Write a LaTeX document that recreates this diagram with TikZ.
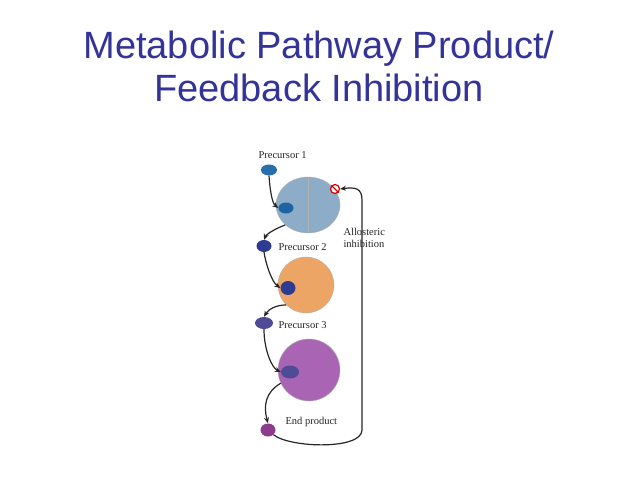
\documentclass[tikz,border=0pt]{standalone}
\usepackage{fontspec}
\setmainfont{Liberation Sans}
\newfontfamily\lab{Liberation Serif}
\usetikzlibrary{arrows.meta,shapes.geometric}
\definecolor{ttl}{HTML}{333399}
\begin{document}
\begin{tikzpicture}[x=1pt,y=-1pt,
  lbl/.style={font=\lab\fontsize{10.5}{12}\selectfont, anchor=west, text=black!85},
  arr/.style={-{Stealth[length=6pt,width=5pt]}, line width=1.2pt, black!85},
  enz/.style={draw=black!30, line width=0.4pt}]
\useasboundingbox (0,0) rectangle (638,479);
\node[font=\fontsize{38}{43}\selectfont, text=ttl, align=center] (title) at (319,66) {Metabolic Pathway Product/\\Feedback Inhibition};
% precursor 1
\node[lbl] (l1) at (255,155) {Precursor 1};
\node[ellipse, fill={rgb,255:red,40;green,110;blue,170}, minimum width=16pt, minimum height=11pt, inner sep=0pt] (p1) at (269,170) {};
% enzyme 1
\node[enz, ellipse, fill={rgb,255:red,140;green,172;blue,200}, minimum width=64pt, minimum height=56pt, inner sep=0pt] (e1) at (308,205) {};
\draw[black!30] (308,178) -- (308,232);
\node[ellipse, fill={rgb,255:red,30;green,100;blue,165}, minimum width=15pt, minimum height=11pt, inner sep=0pt] (b1) at (286,208) {};
\node[circle, draw=red!85!black, fill=white, line width=1.2pt, minimum size=9pt, inner sep=0pt] (inh) at (335,189) {};
\draw[red!85!black, line width=1.2pt] (inh.north west) -- (inh.south east);
% precursor 2
\node[ellipse, fill={rgb,255:red,45;green,60;blue,145}, minimum width=15pt, minimum height=12pt, inner sep=0pt] (p2) at (264,246) {};
\node[lbl] (l2) at (275,247) {Precursor 2};
\node[lbl, align=left] (al) at (340,238) {Allosteric\\inhibition};
% enzyme 2
\node[enz, circle, fill={rgb,255:red,236;green,165;blue,100}, minimum size=56pt, inner sep=0pt] (e2) at (306,285) {};
\node[ellipse, fill={rgb,255:red,45;green,60;blue,145}, minimum width=15pt, minimum height=14pt, inner sep=0pt] (b2) at (288,288) {};
% precursor 3
\node[ellipse, fill={rgb,255:red,80;green,75;blue,150}, minimum width=18pt, minimum height=12pt, inner sep=0pt] (p3) at (264,323) {};
\node[lbl] (l3) at (275,325) {Precursor 3};
% enzyme 3
\node[enz, circle, fill={rgb,255:red,170;green,100;blue,180}, minimum size=62pt, inner sep=0pt] (e3) at (309,370) {};
\node[ellipse, fill={rgb,255:red,80;green,75;blue,150}, minimum width=18pt, minimum height=13pt, inner sep=0pt] (b3) at (290,372) {};
% end product
\node[ellipse, fill={rgb,255:red,140;green,60;blue,140}, minimum width=15pt, minimum height=13pt, inner sep=0pt] (ep) at (268,430) {};
\node[lbl] (l4) at (282,422) {End product};
% arrows
\draw[arr] (p1.south) .. controls (270,190) and (272,203) .. (b1.west);
\draw[arr] (e1.south west) .. controls (272,230) and (266,235) .. (p2.north);
\draw[arr] (p2.south) .. controls (266,265) and (272,282) .. (b2.west);
\draw[arr] (e2.south west) .. controls (275,305) and (268,310) .. (p3.north);
\draw[arr] (p3.south) .. controls (264,350) and (272,368) .. (b3.west);
\draw[arr] (e3.205) .. controls (266,392) and (263,405) .. (ep.north);
\coordinate (c1) at (362,430);
\draw[arr] (ep.south east) .. controls (290,448) and (362,450) .. (c1) -- (362,200) .. controls (362,188) and (355,187) .. (inh.east);
\end{tikzpicture}
\end{document}
